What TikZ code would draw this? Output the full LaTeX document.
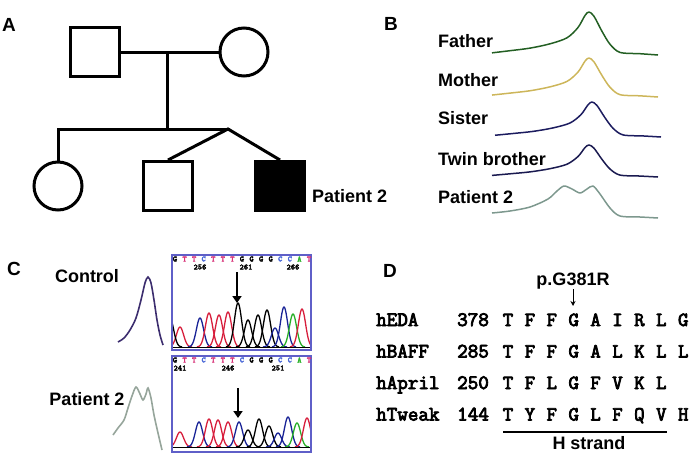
\documentclass[tikz,border=0pt]{standalone}
\usepackage{fontspec}
\setmainfont{Liberation Sans}
\setmonofont{Latin Modern Mono}[AutoFakeBold=4]
\usetikzlibrary{arrows.meta}
\definecolor{fagreen}{RGB}{35,95,35}
\definecolor{mogold}{RGB}{205,182,90}
\definecolor{sisnavy}{RGB}{28,28,95}
\definecolor{twnavy}{RGB}{26,26,80}
\definecolor{ptgray}{RGB}{125,152,142}
\definecolor{ctlpurp}{RGB}{60,45,110}
\definecolor{ptlgray}{RGB}{150,165,155}
\definecolor{boxblue}{RGB}{95,95,200}
\definecolor{chred}{RGB}{215,30,60}
\definecolor{chblue}{RGB}{25,35,150}
\definecolor{chgreen}{RGB}{40,175,40}
\definecolor{sT}{RGB}{215,50,120}
\definecolor{sC}{RGB}{75,105,215}
\definecolor{sA}{RGB}{50,180,50}
\tikzset{
  ped/.style={draw=black,line width=3pt},
  sqr/.style={ped,rectangle,minimum size=49pt,inner sep=0pt},
  circ/.style={ped,circle,minimum size=48pt,inner sep=0pt},
  lbl/.style={font=\fontsize{18}{20}\selectfont\bfseries,inner sep=0pt},
  panel/.style={font=\fontsize{19}{21}\selectfont\bfseries,inner sep=0pt},
  seqt/.style={font=\ttfamily\fontsize{20}{22}\selectfont\bfseries,inner sep=0pt,anchor=base},
  namet/.style={font=\ttfamily\fontsize{20.5}{22}\selectfont\bfseries,inner sep=0pt,anchor=base west},
  tiny/.style={font=\ttfamily\fontsize{8}{9}\selectfont\bfseries,inner sep=0pt},
  chbox/.style={draw=boxblue,line width=1.2pt},
  bigarrow/.style={line width=2.6pt,-{Triangle[length=7pt,width=9pt]}},
}
\newcommand\bcurve[3]{%
  \draw[#3,line width=1.5pt,line join=round] plot[smooth,tension=0.5] coordinates {
    (492,{#1-0.05*#2}) (510,{#1-0.1*#2}) (530,{#1-0.16*#2}) (550,{#1-0.26*#2})
    (567,{#1-0.4*#2}) (578,{#1-0.64*#2}) (585,{#1-0.92*#2}) (589,{#1-#2})
    (594,{#1-0.9*#2}) (602,{#1-0.55*#2}) (610,{#1-0.25*#2}) (620,{#1-0.06*#2})
    (640,{#1-0.03*#2}) (658,{#1})};}
\newcommand\pk[4]{%
  \draw[#3,line width=1.3pt] plot[domain={#1-12}:{#1+12},samples=35,smooth]
    (\x,{#4-(#4-#2)*exp(-((\x-#1)*(\x-#1))/(2*13))});}
\begin{document}
\begin{tikzpicture}[x=1pt,y=-1pt]
\useasboundingbox (0,0) rectangle (690,453);
% ---------- Panel A ----------
\node[panel] (pA) at (9,25) {A};
\node[sqr] (fa) at (95,52) {};
\node[circ] (mo) at (244,52) {};
\node[circ] (sis) at (58,186) {};
\node[sqr] (bro) at (168,186) {};
\node[sqr,fill=black] (pat) at (280,186) {};
\node[lbl,anchor=base west] (patl) at (312,202) {Patient 2};
\coordinate (mar) at (167,52);
\coordinate (sibm) at (167,129);
\coordinate (sibl) at (58,129);
\coordinate (twin) at (228,129);
\draw[ped] (fa.east) -- (mo.west);
\draw[ped] (mar) -- (sibm);
\draw[ped,line cap=rect] (sibl) -- (twin);
\draw[ped] (sibl) -- (sis.north);
\draw[ped,line join=miter] (bro.north) -- (twin) -- (pat.north);
% ---------- Panel B ----------
\node[panel] (pB) at (391,24) {B};
\node[lbl,anchor=base west] (bfa) at (438,47) {Father};
\node[lbl,anchor=base west] (bmo) at (438,86) {Mother};
\node[lbl,anchor=base west] (bsi) at (438,124) {Sister};
\node[lbl,anchor=base west] (btw) at (438,165) {Twin brother};
\node[lbl,anchor=base west] (bpt) at (438,203) {Patient 2};
\bcurve{55}{43}{fagreen}
\bcurve{97}{39}{mogold}
\begin{scope}[xshift=3pt]\bcurve{137}{35}{sisnavy}\end{scope}
\bcurve{177}{32}{twnavy}
\draw[ptgray,line width=1.5pt,line join=round] plot[smooth,tension=0.5] coordinates {
  (492,213) (510,211) (530,207) (548,199) (557,191) (564,186) (572,189)
  (580,193) (587,189) (593,186) (600,194) (610,208) (620,216) (640,217) (658,218)};
% ---------- Panel C ----------
\node[panel] (pC) at (14,269) {C};
\node[lbl,anchor=base] (ctl) at (87,282) {Control};
\node[lbl,anchor=base] (cpt) at (87,405) {Patient 2};
\draw[ctlpurp,line width=1.6pt] plot[smooth,tension=0.5] coordinates {
  (118,342) (124,338) (130,330) (136,318) (141,300) (145,283) (148,277)
  (151,283) (154,300) (157,320) (160,335) (163,345)};
\draw[ptlgray,line width=1.6pt] plot[smooth,tension=0.5] coordinates {
  (113,435) (118,428) (124,420) (128,408) (132,396) (136,387) (140,394)
  (143,400) (146,394) (148,388) (151,398) (154,415) (158,433) (162,450)};
% chromatogram 1
\begin{scope}
\clip (172,255) rectangle (311,350);
\foreach \c/\t/\col in {180/327/chred,200/318/chblue,209/313/chred,219/315/chred,
  228/312/chred,238/303/black,248/320/black,258/315/black,267/310/black,
  275/328/chblue,284/307/chblue,293/314/chgreen,302/309/chred,170/318/black}
  {\pk{\c}{\t}{\col}{347}}
\draw[black,line width=1pt] (172,347) -- (311,347);
\end{scope}
\node[chbox,minimum width=139pt,minimum height=95pt,inner sep=0pt] (box1) at (241.5,302.5) {};
\foreach \l/\col [count=\i from 0] in {G/black,T/sT,T/sT,C/sC,T/sT,T/sT,T/sT,G/black,G/black,G/black,G/black,C/sC,C/sC,A/sA,T/sT}
  {\node[tiny,text=\col] (s1\i) at ({175+9.57*\i},259) {\l};}
\node[tiny] (n256) at (200,267) {256};
\node[tiny] (n261) at (246,267) {261};
\node[tiny] (n266) at (293,267) {266};
\coordinate (a1s) at (237,272);
\coordinate (a1e) at (237,303);
\draw[bigarrow] (a1s) -- (a1e);
% chromatogram 2
\begin{scope}
\clip (172,356) rectangle (311,452);
\foreach \c/\t/\col in {180/432/chred,199/422/chblue,209/419/chred,218/420/chred,
  228/422/chred,239/422/chblue,248/430/black,259/419/black,269/426/black,
  278/433/chblue,288/417/chblue,297/423/chgreen,307/418/chred}
  {\pk{\c}{\t}{\col}{447}}
\draw[black,line width=1pt] (172,447) -- (311,447);
\end{scope}
\node[chbox,minimum width=139pt,minimum height=96pt,inner sep=0pt] (box2) at (241.5,404) {};
\foreach \l/\col [count=\i from 0] in {G/black,T/sT,T/sT,C/sC,T/sT,T/sT,T/sT,C/sC,G/black,G/black,G/black,C/sC,C/sC,A/sA,T/sT}
  {\node[tiny,text=\col] (s2\i) at ({175+9.57*\i},360) {\l};}
\node[tiny] (n241) at (180,368) {241};
\node[tiny] (n246) at (228,368) {246};
\node[tiny] (n251) at (278,368) {251};
\coordinate (a2s) at (238,388);
\coordinate (a2e) at (238,418);
\draw[bigarrow] (a2s) -- (a2e);
% ---------- Panel D ----------
\node[panel] (pD) at (390,271) {D};
\node[lbl,anchor=base] (mut) at (573,285) {p.G381R};
\coordinate (m1) at (573,289);
\coordinate (m2) at (573,306);
\draw[line width=1pt,-{Stealth[length=5pt,width=5pt]}] (m1) -- (m2);
\foreach \nm/\num/\seq/\yy in {hEDA/378/{T,F,F,G,A,I,R,L,G}/326,
  hBAFF/285/{T,F,F,G,A,L,K,L,L}/357.5,
  hApril/250/{T,F,L,G,F,V,K,L}/389,
  hTweak/144/{T,Y,F,G,L,F,Q,V,H}/420.5}{
  \node[namet] (nm\nm) at (376,\yy) {\nm};
  \node[namet] (nu\nm) at (457,\yy) {\num};
  \foreach \a [count=\j from 0] in \seq {\node[seqt] at ({508+21.9*\j},\yy) {\a};}
}
\coordinate (h1) at (503,432);
\coordinate (h2) at (667,432);
\draw[line width=1.5pt] (h1) -- (h2);
\node[lbl,anchor=base] (hs) at (589,449) {H strand};
\end{tikzpicture}
\end{document}
